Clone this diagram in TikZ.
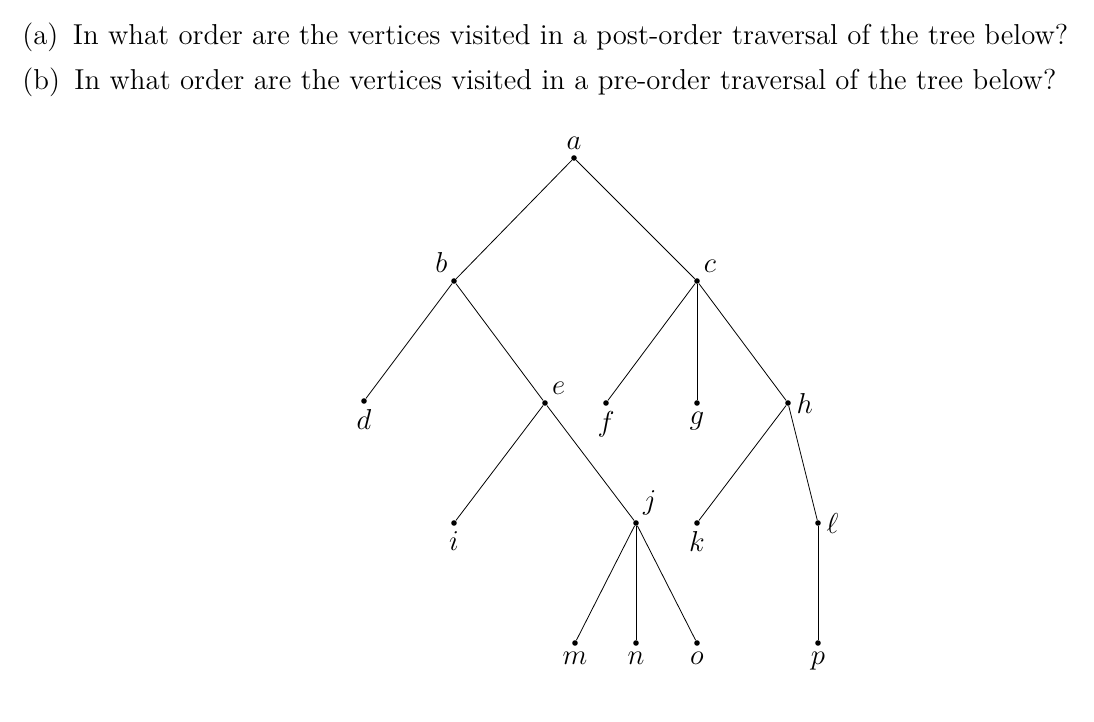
\documentclass[tikz,border=0pt]{standalone}
\begin{document}
\begin{tikzpicture}[x=0.5pt,y=-0.5pt,
  v/.style={circle,fill=black,inner sep=0pt,minimum size=2.8pt},
  lab/.style={font=\fontsize{15}{17}\selectfont,inner sep=2.5pt},
  edge/.style={line width=0.4pt},
  q/.style={anchor=west,font=\fontsize{14.4}{17}\selectfont,inner sep=0pt}]
\useasboundingbox (0,0) rectangle (1094,722);
\node[q] (qa) at (22,37) {(a)\enspace In what order are the vertices visited in a post-order traversal of the tree below?};
\node[q] (qb) at (22,82) {(b)\enspace In what order are the vertices visited in a pre-order traversal of the tree below?};
\node[v,label={[lab]above:$a$}] (a) at (574,158) {};
\node[v,label={[lab]115:$b$}] (b) at (454,281) {};
\node[v,label={[lab]65:$c$}] (c) at (697,281) {};
\node[v,label={[lab]below:$d$}] (d) at (364,401) {};
\node[v,label={[lab]60:$e$}] (e) at (545,403) {};
\node[v,label={[lab]below:$f$}] (f) at (606,403) {};
\node[v,label={[lab]below:$g$}] (g) at (697,403) {};
\node[v,label={[lab]right:$h$}] (h) at (788,403) {};
\node[v,label={[lab]below:$i$}] (i) at (454,523) {};
\node[v,label={[lab]60:$j$}] (j) at (636,523) {};
\node[v,label={[lab]below:$k$}] (k) at (697,523) {};
\node[v,label={[lab]right:$\ell$}] (l) at (818,523) {};
\node[v,label={[lab]below:$m$}] (m) at (575,643) {};
\node[v,label={[lab]below:$n$}] (n) at (636,643) {};
\node[v,label={[lab]below:$o$}] (o) at (697,643) {};
\node[v,label={[lab]below:$p$}] (p) at (818,643) {};
\foreach \s/\t in {a/b,a/c,b/d,b/e,c/f,c/g,c/h,e/i,e/j,h/k,h/l,j/m,j/n,j/o,l/p}
  \draw[edge] (\s) -- (\t);
\end{tikzpicture}
\end{document}
